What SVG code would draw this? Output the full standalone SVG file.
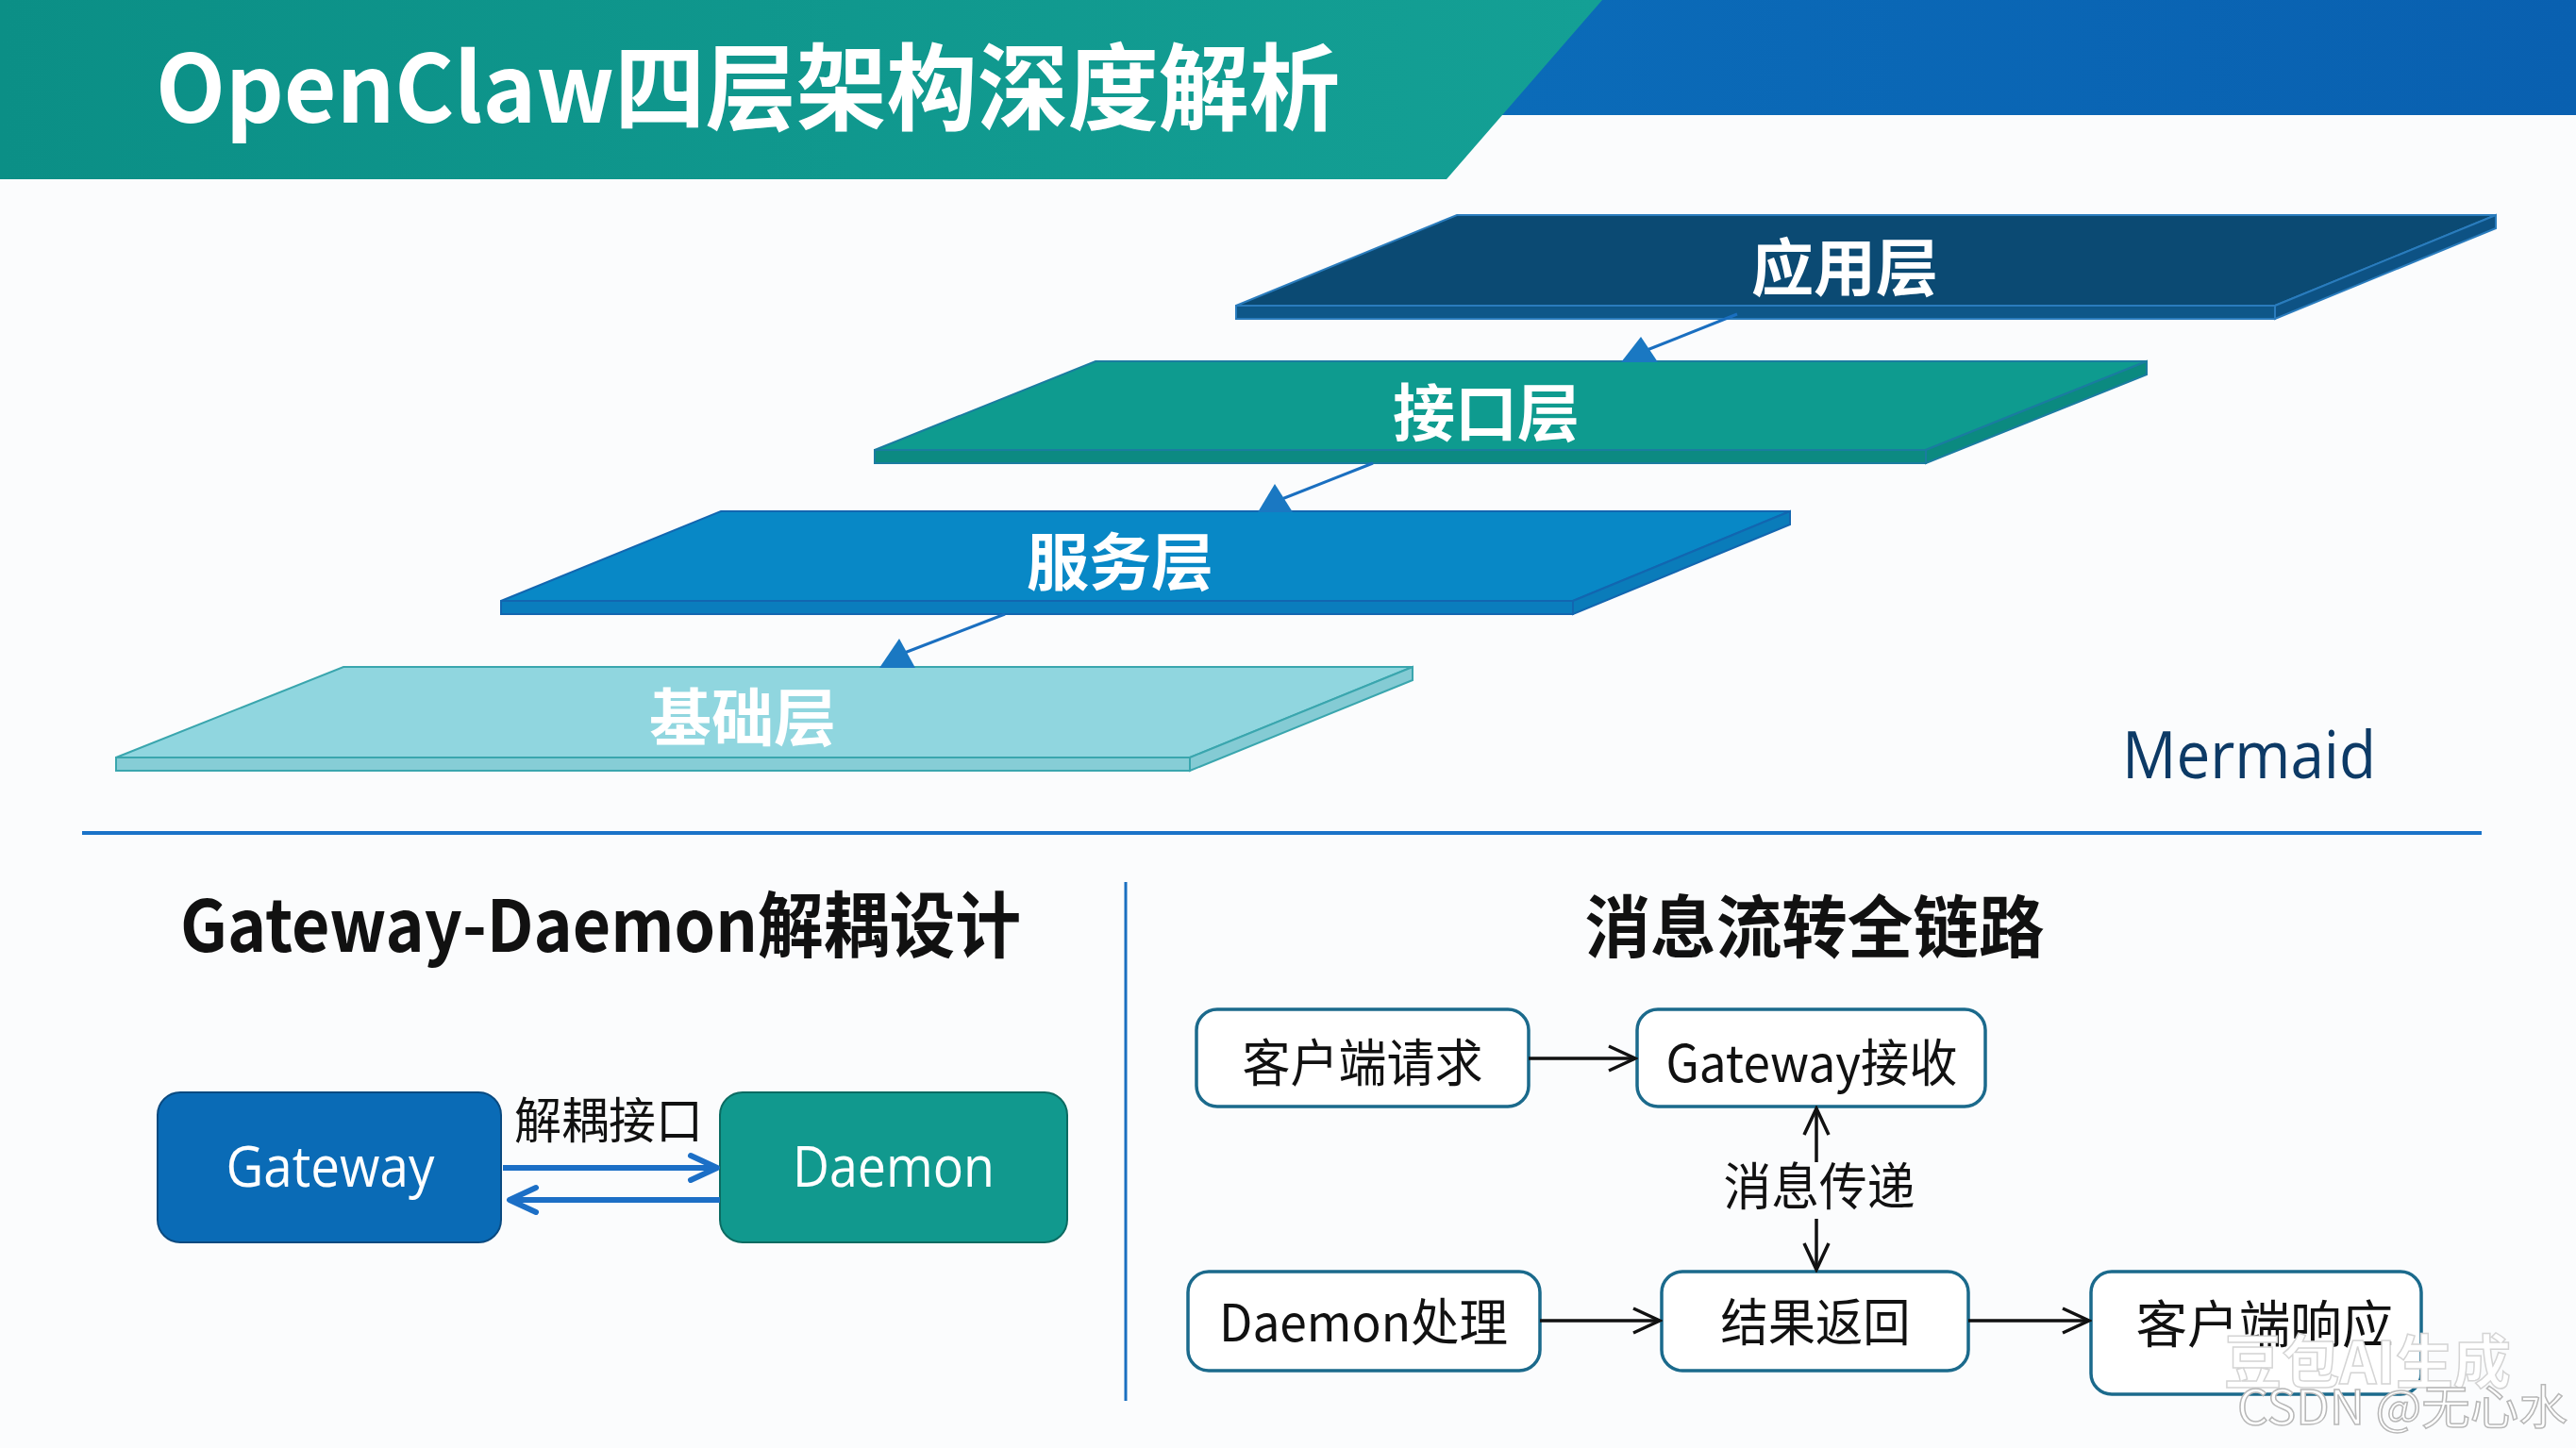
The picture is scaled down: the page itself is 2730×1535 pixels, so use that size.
<svg xmlns="http://www.w3.org/2000/svg" width="2730" height="1535" viewBox="0 0 2730 1535">
<defs>
<style>
.cjk{font-family:"Noto Sans CJK SC","Noto Sans",sans-serif;}
.b{font-weight:700;}
.wt{fill:#ffffff;}
.bk{fill:#111111;}
.flowbox{fill:#ffffff;stroke:#1b6a8c;stroke-width:3.5;}
.blk{stroke:#111111;stroke-width:3.5;fill:none;}
.blu{stroke:#1c6fc6;stroke-width:6;fill:none;}
.lay{stroke:#1a6fc0;stroke-width:3;fill:none;}
.tri{fill:#1a78c2;}
</style>
<linearGradient id="gTeal" x1="0" y1="0" x2="1" y2="0">
<stop offset="0" stop-color="#0b8f86"/><stop offset="1" stop-color="#14a095"/>
</linearGradient>
<linearGradient id="gBlue" x1="0" y1="0" x2="1" y2="0">
<stop offset="0" stop-color="#0b6cb9"/><stop offset="1" stop-color="#0960b0"/>
</linearGradient>
<marker id="chevBk" markerUnits="userSpaceOnUse" markerWidth="34" markerHeight="32" viewBox="0 0 34 32" refX="31" refY="16" orient="auto">
<path d="M3,3 L31,16 L3,29" fill="none" stroke="#111111" stroke-width="3.5" stroke-linejoin="miter"/>
</marker>
<marker id="chevBl" markerUnits="userSpaceOnUse" markerWidth="36" markerHeight="34" viewBox="0 0 36 34" refX="32" refY="17" orient="auto">
<path d="M4,4 L32,17 L4,30" fill="none" stroke="#1c6fc6" stroke-width="6" stroke-linecap="round" stroke-linejoin="round"/>
</marker>
</defs>
<rect x="0" y="0" width="2730" height="1535" fill="#fbfcfd"/>

<g id="header">
<rect x="1500" y="0" width="1230" height="122" fill="url(#gBlue)"/>
<polygon points="0,0 1698,0 1533,190 0,190" fill="url(#gTeal)"/>
<text class="cjk b wt" x="165" y="130" font-size="100" textLength="1255" lengthAdjust="spacingAndGlyphs">OpenClaw四层架构深度解析</text>
</g>

<g id="layer-app">
<polygon points="1544,228 2645,228 2411,324 1310,324" fill="#0b4a73" stroke="#2a7cbd" stroke-width="2"/>
<rect x="1310" y="324" width="1101" height="14" fill="#0e5789" stroke="#2a7cbd" stroke-width="2"/>
<polygon points="2411,324 2645,228 2645,242 2411,338" fill="#0d5284" stroke="#2a7cbd" stroke-width="2"/>
<text class="cjk b wt" x="1955" y="308" font-size="66" text-anchor="middle">应用层</text>
</g>

<g id="layer-interface">
<polygon points="1161,383 2275,383 2041,477 927,477" fill="#0e9b8f" stroke="#1a7ca0" stroke-width="2"/>
<rect x="927" y="477" width="1114" height="14" fill="#0c8a82" stroke="#1a7ca0" stroke-width="2"/>
<polygon points="2041,477 2275,383 2275,397 2041,491" fill="#0b8a80" stroke="#1a7ca0" stroke-width="2"/>
<text class="cjk b wt" x="1575" y="462" font-size="66" text-anchor="middle">接口层</text>
</g>

<g id="layer-service">
<polygon points="764,542 1897,542 1667,637 531,637" fill="#0888c6" stroke="#1266b0" stroke-width="2"/>
<rect x="531" y="637" width="1136" height="14" fill="#0a7dbd" stroke="#1266b0" stroke-width="2"/>
<polygon points="1667,637 1897,542 1897,556 1667,651" fill="#0a7cba" stroke="#1266b0" stroke-width="2"/>
<text class="cjk b wt" x="1187" y="620" font-size="66" text-anchor="middle">服务层</text>
</g>

<g id="layer-base">
<polygon points="364,707 1497,707 1261,803 123,803" fill="#90d6df" stroke="#3aa6ae" stroke-width="2"/>
<rect x="123" y="803" width="1138" height="14" fill="#86cdd6" stroke="#3aa6ae" stroke-width="2"/>
<polygon points="1261,803 1497,707 1497,721 1261,817" fill="#84cbd4" stroke="#3aa6ae" stroke-width="2"/>
<text class="cjk b wt" x="787" y="785" font-size="66" text-anchor="middle">基础层</text>
</g>

<g id="mermaid-label">
<text x="2249" y="825" font-family="Open Sans, Noto Sans, sans-serif" font-size="70" fill="#0d3a66" textLength="269" lengthAdjust="spacingAndGlyphs">Mermaid</text>
</g>

<g id="dividers">
<line x1="87" y1="883" x2="2630" y2="883" stroke="#1a73c8" stroke-width="4"/>
<line x1="1193" y1="935" x2="1193" y2="1485" stroke="#1a6fc0" stroke-width="3"/>
</g>

<g id="title-decouple">
<text class="cjk b bk" x="191" y="1009" font-size="76" textLength="891" lengthAdjust="spacingAndGlyphs">Gateway-Daemon解耦设计</text>
</g>
<g id="title-flow">
<text class="cjk b bk" x="1923" y="1009" font-size="72" text-anchor="middle" textLength="487" lengthAdjust="spacingAndGlyphs">消息流转全链路</text>
</g>

<g id="node-gateway">
<rect x="167" y="1158" width="364" height="159" rx="24" fill="#0a6bb6" stroke="#0a4a80" stroke-width="2"/>
<text x="350" y="1258" font-family="Open Sans, Noto Sans, sans-serif" font-size="60" fill="#ffffff" text-anchor="middle" textLength="221" lengthAdjust="spacingAndGlyphs">Gateway</text>
</g>
<g id="node-daemon">
<rect x="763" y="1158" width="368" height="159" rx="24" fill="#11998e" stroke="#0b6b62" stroke-width="2"/>
<text x="947" y="1258" font-family="Open Sans, Noto Sans, sans-serif" font-size="60" fill="#ffffff" text-anchor="middle" textLength="214" lengthAdjust="spacingAndGlyphs">Daemon</text>
</g>

<g id="node-client-req">
<rect class="flowbox" x="1268" y="1070" width="352" height="103" rx="22"/>
<text class="cjk bk" x="1444" y="1147" font-size="54" text-anchor="middle" textLength="255" lengthAdjust="spacingAndGlyphs">客户端请求</text>
</g>
<g id="node-gw-recv">
<rect class="flowbox" x="1735" y="1070" width="369" height="103" rx="22"/>
<text class="cjk bk" x="1920" y="1147" font-size="54" text-anchor="middle" textLength="309" lengthAdjust="spacingAndGlyphs">Gateway接收</text>
</g>
<g id="node-daemon-proc">
<rect class="flowbox" x="1259" y="1348" width="373" height="105" rx="22"/>
<text class="cjk bk" x="1445" y="1422" font-size="54" text-anchor="middle" textLength="306" lengthAdjust="spacingAndGlyphs">Daemon处理</text>
</g>
<g id="node-result">
<rect class="flowbox" x="1761" y="1348" width="325" height="105" rx="22"/>
<text class="cjk bk" x="1924" y="1422" font-size="54" text-anchor="middle" textLength="201" lengthAdjust="spacingAndGlyphs">结果返回</text>
</g>
<g id="node-client-resp">
<rect class="flowbox" x="2216" y="1348" width="350" height="130" rx="22"/>
<text class="cjk bk" x="2400" y="1424" font-size="54" text-anchor="middle" textLength="273" lengthAdjust="spacingAndGlyphs">客户端响应</text>
</g>

<g id="connectors">
<line class="lay" x1="1841" y1="333" x2="1743" y2="372"/>
<polygon class="tri" points="1739,357 1718,384 1757,384"/>
<line class="lay" x1="1455" y1="491" x2="1356" y2="530"/>
<polygon class="tri" points="1351,513 1333,543 1370,543"/>
<line class="lay" x1="1065" y1="651" x2="956" y2="693"/>
<polygon class="tri" points="953,677 932,708 970,708"/>

<line class="blu" x1="533" y1="1238" x2="760" y2="1238" marker-end="url(#chevBl)"/>
<line class="blu" x1="763" y1="1272" x2="540" y2="1272" marker-end="url(#chevBl)"/>
<text class="cjk bk" x="645" y="1207" font-size="52" text-anchor="middle" textLength="200" lengthAdjust="spacingAndGlyphs">解耦接口</text>

<line class="blk" x1="1620" y1="1122" x2="1733" y2="1122" marker-end="url(#chevBk)"/>
<line class="blk" x1="1925" y1="1232" x2="1925" y2="1175" marker-end="url(#chevBk)"/>
<line class="blk" x1="1925" y1="1292" x2="1925" y2="1346" marker-end="url(#chevBk)"/>
<text class="cjk bk" x="1928" y="1278" font-size="54" text-anchor="middle" textLength="203" lengthAdjust="spacingAndGlyphs">消息传递</text>
<line class="blk" x1="1632" y1="1400" x2="1759" y2="1400" marker-end="url(#chevBk)"/>
<line class="blk" x1="2086" y1="1400" x2="2214" y2="1400" marker-end="url(#chevBk)"/>
</g>

<g id="watermark">
<text class="cjk b" x="2357" y="1467" font-size="62" fill="#ffffff" stroke="#d4d4d4" stroke-width="1.5" textLength="304" lengthAdjust="spacingAndGlyphs">豆包AI生成</text>
<text class="cjk" x="2371" y="1510" font-size="50" fill="#ffffff" stroke="#b8b8b8" stroke-width="1.5" textLength="350" lengthAdjust="spacingAndGlyphs">CSDN @无心水</text>
</g>
</svg>
